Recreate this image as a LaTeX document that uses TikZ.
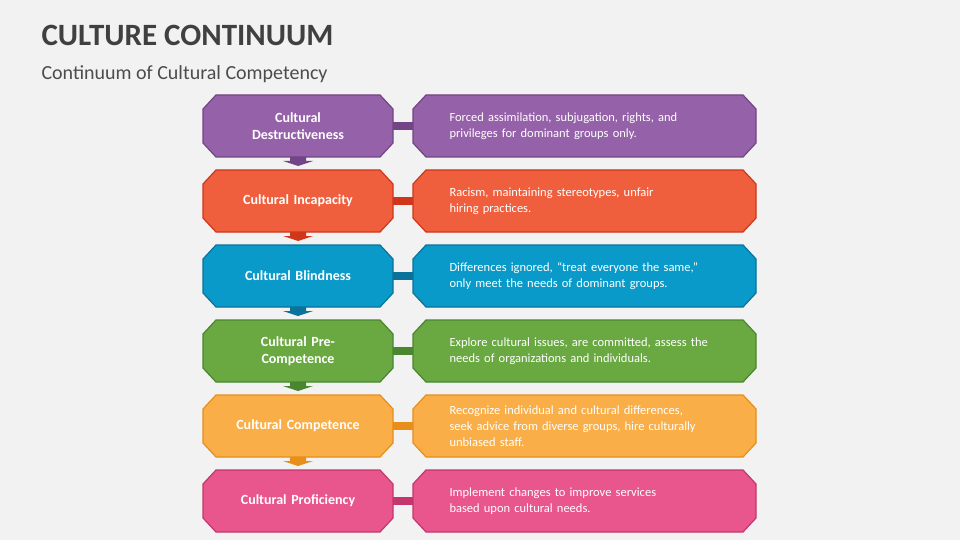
\documentclass[tikz,border=0pt]{standalone}
\usepackage{fontspec}
\setmainfont{Carlito}
\begin{document}
\begin{tikzpicture}[x=1pt,y=-1pt,
  lbl/.style={text=white,font=\bfseries\fontsize{14}{17}\selectfont,align=center,text width=150pt},
  rtxt/.style={text=white,font=\fontsize{12.5}{16}\selectfont,align=left,text width=290pt,anchor=west}]
\fill[gray!10] (0,0) rectangle (960,540);
\node[anchor=west,text=black!75,font=\bfseries\fontsize{31}{36}\selectfont] (title) at (38,35) {CULTURE CONTINUUM};
\node[anchor=west,text=black!70,font=\fontsize{20}{24}\selectfont] (sub) at (38,74) {Continuum of Cultural Competency};
\definecolor{c1}{HTML}{9561A8}\definecolor{d1}{HTML}{734587}
\definecolor{c2}{HTML}{F05F3D}\definecolor{d2}{HTML}{D0361A}
\definecolor{c3}{HTML}{0A9AC9}\definecolor{d3}{HTML}{0B7299}
\definecolor{c4}{HTML}{6AA842}\definecolor{d4}{HTML}{4A8530}
\definecolor{c5}{HTML}{F9AE47}\definecolor{d5}{HTML}{E88E1A}
\definecolor{c6}{HTML}{E9568E}\definecolor{d6}{HTML}{C4366D}
\newcommand{\octo}[5]{% x1,x2,yc,fill,draw
  \filldraw[fill=#4,draw=#5,line width=1.2pt] (#1+13,#3-31) -- (#2-13,#3-31) -- (#2,#3-17) -- (#2,#3+17) -- (#2-13,#3+31) -- (#1+13,#3+31) -- (#1,#3+17) -- (#1,#3-17) -- cycle;}
\foreach \i/\y/\l/\r in {
 1/126/{Cultural\\Destructiveness}/{Forced assimilation, subjugation, rights, and\\privileges for dominant groups only.},
 2/201/{Cultural Incapacity}/{Racism, maintaining stereotypes, unfair\\hiring practices.},
 3/276/{Cultural Blindness}/{Differences ignored, “treat everyone the same,”\\only meet the needs of dominant groups.},
 4/351/{Cultural Pre-\\Competence}/{Explore cultural issues, are committed, assess the\\needs of organizations and individuals.},
 5/426/{Cultural Competence}/{Recognize individual and cultural differences,\\seek advice from diverse groups, hire culturally\\unbiased staff.},
 6/501/{Cultural Proficiency}/{Implement changes to improve services\\based upon cultural needs.}}{
  \fill[d\i] (392,\y-4) rectangle (414,\y+4);
  \octo{203}{393}{\y}{c\i}{d\i}
  \octo{413}{756}{\y}{c\i}{d\i}
  \node[lbl] (l\i) at (298,\y) {\l};
  \node[rtxt] (r\i) at (446,\y) {\r};
  \ifnum\i<6
    \fill[d\i] (290,\y+31) -- (306,\y+31) -- (306,\y+35) -- (313,\y+35) -- (298,\y+40) -- (283,\y+35) -- (290,\y+35) -- cycle;
  \fi
}
\end{tikzpicture}
\end{document}
